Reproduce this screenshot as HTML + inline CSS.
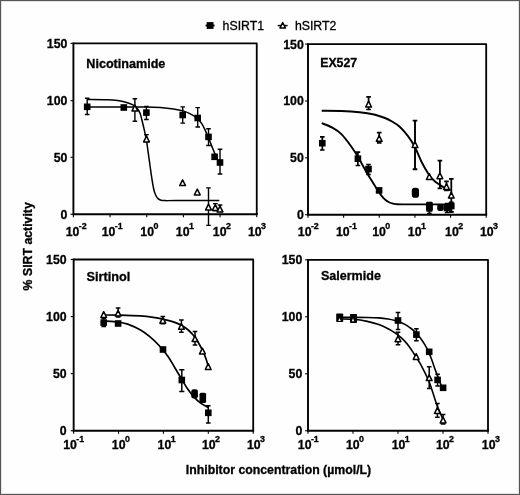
<!DOCTYPE html>
<html><head><meta charset="utf-8"><title>SIRT inhibitor dose response</title>
<style>html,body{margin:0;padding:0;background:#fefefe;}body{width:520px;height:495px;overflow:hidden;}svg{display:block;font-family:'Liberation Sans', sans-serif;}text{fill:#000;stroke:#000;stroke-width:0.3px;}</style>
</head><body>
<svg width="520" height="495" viewBox="0 0 520 495">
<rect x="0" y="0" width="520" height="495" fill="#fefefe"/>
<rect x="1.5" y="1.5" width="517" height="492" fill="none" stroke="#e2e2e2" stroke-width="1"/>
<rect x="0.5" y="0.5" width="519" height="494" fill="none" stroke="#555" stroke-width="1"/>
<path d="M205.6 25.5 H214.6" stroke="#000" stroke-width="1.8"/>
<rect x="206.70" y="22.10" width="6.80" height="6.80" fill="#000"/>
<text x="222.6" y="29.8" font-size="12.3">hSIRT1</text>
<path d="M277.7 25.6 H287.6" stroke="#000" stroke-width="1.5"/>
<path d="M282.70 22.50 L285.45 28.10 L279.95 28.10 Z" fill="#fff" stroke="#000" stroke-width="1.50" stroke-linejoin="round"/>
<text x="294.9" y="29.8" font-size="12.3">hSIRT2</text>
<text transform="translate(31.6 246.3) rotate(-90)" text-anchor="middle" font-weight="bold" font-size="12.3">% SIRT activity</text>
<text x="278.5" y="473.6" text-anchor="middle" font-weight="bold" font-size="12.3">Inhibitor concentration (µmol/L)</text>
<path d="M73.40 43.35 H256.75 V214.30" fill="none" stroke="#000" stroke-width="1.8" stroke-linejoin="round"/>
<path d="M73.40 43.35 V214.30 H256.75" fill="none" stroke="#000" stroke-width="1.9" stroke-linejoin="miter" stroke-linecap="square"/>
<path d="M73.40 214.30 V217.30" stroke="#000" stroke-width="1.1"/>
<path d="M110.07 214.30 V217.30" stroke="#000" stroke-width="1.1"/>
<path d="M146.74 214.30 V217.30" stroke="#000" stroke-width="1.1"/>
<path d="M183.41 214.30 V217.30" stroke="#000" stroke-width="1.1"/>
<path d="M220.08 214.30 V217.30" stroke="#000" stroke-width="1.1"/>
<path d="M256.75 214.30 V217.30" stroke="#000" stroke-width="1.1"/>
<path d="M73.40 214.30 H70.50" stroke="#000" stroke-width="1.1"/>
<path d="M73.40 157.30 H70.50" stroke="#000" stroke-width="1.1"/>
<path d="M73.40 100.70 H70.50" stroke="#000" stroke-width="1.1"/>
<path d="M73.40 43.35 H70.50" stroke="#000" stroke-width="1.1"/>
<text x="65.70" y="235.80" font-weight="bold" font-size="12.3">10<tspan dx="-0.6" dy="-6.9" font-size="8.9">-2</tspan></text>
<text x="101.70" y="235.80" font-weight="bold" font-size="12.3">10<tspan dx="-0.6" dy="-6.9" font-size="8.9">-1</tspan></text>
<text x="140.30" y="235.80" font-weight="bold" font-size="12.3">10<tspan dx="-0.6" dy="-6.9" font-size="8.9">0</tspan></text>
<text x="175.85" y="235.80" font-weight="bold" font-size="12.3">10<tspan dx="-0.6" dy="-6.9" font-size="8.9">1</tspan></text>
<text x="212.85" y="235.80" font-weight="bold" font-size="12.3">10<tspan dx="-0.6" dy="-6.9" font-size="8.9">2</tspan></text>
<text x="248.00" y="235.80" font-weight="bold" font-size="12.3">10<tspan dx="-0.6" dy="-6.9" font-size="8.9">3</tspan></text>
<text x="67.40" y="218.70" font-weight="bold" font-size="12.3" text-anchor="end">0</text>
<text x="67.40" y="161.70" font-weight="bold" font-size="12.3" text-anchor="end">50</text>
<text x="67.40" y="105.10" font-weight="bold" font-size="12.3" text-anchor="end">100</text>
<text x="67.40" y="47.75" font-weight="bold" font-size="12.3" text-anchor="end">150</text>
<text x="86.3" y="67.5" font-weight="bold" font-size="12.6">Nicotinamide</text>
<path d="M87.30 106.90 C93.42 106.92 114.10 107.00 124.00 107.00 C133.90 107.00 140.67 106.82 146.70 106.90 C152.73 106.98 155.72 107.15 160.20 107.50 C164.68 107.85 169.78 108.43 173.60 109.00 C177.42 109.57 180.40 110.13 183.10 110.90 C185.80 111.67 187.57 112.48 189.80 113.60 C192.03 114.72 194.48 115.90 196.50 117.60 C198.52 119.30 200.32 121.40 201.90 123.80 C203.48 126.20 204.77 129.33 206.00 132.00 C207.23 134.67 208.22 137.13 209.30 139.80 C210.38 142.47 211.43 145.33 212.50 148.00 C213.57 150.67 214.70 153.55 215.70 155.80 C216.70 158.05 217.78 160.13 218.50 161.50 C219.22 162.87 219.75 163.58 220.00 164.00" fill="none" stroke="#000" stroke-width="1.50" stroke-linecap="butt" stroke-linejoin="round"/>
<path d="M87.30 99.40 C90.57 99.45 101.83 99.50 106.90 99.70 C111.97 99.90 114.55 100.18 117.70 100.60 C120.85 101.02 123.33 101.53 125.80 102.20 C128.27 102.87 130.72 103.70 132.50 104.60 C134.28 105.50 135.27 106.22 136.50 107.60 C137.73 108.98 139.02 110.92 139.90 112.90 C140.78 114.88 141.03 116.50 141.80 119.50 C142.57 122.50 143.68 127.18 144.50 130.90 C145.32 134.62 146.08 138.17 146.70 141.80 C147.32 145.43 147.65 148.75 148.20 152.70 C148.75 156.65 149.40 161.25 150.00 165.50 C150.60 169.75 151.20 174.37 151.80 178.20 C152.40 182.03 152.98 185.73 153.60 188.50 C154.22 191.27 154.77 193.12 155.50 194.80 C156.23 196.48 157.08 197.70 158.00 198.60 C158.92 199.50 159.83 199.87 161.00 200.20 C162.17 200.53 162.67 200.53 165.00 200.60 C167.33 200.67 165.95 200.60 175.00 200.60 C184.05 200.60 211.92 200.60 219.30 200.60" fill="none" stroke="#000" stroke-width="1.50" stroke-linecap="butt" stroke-linejoin="round"/>
<path d="M87.20 98.30 V114.50 M84.90 98.30 H89.50 M84.90 114.50 H89.50" fill="none" stroke="#000" stroke-width="1.40"/>
<path d="M134.90 98.70 V121.20 M132.60 98.70 H137.20 M132.60 121.20 H137.20" fill="none" stroke="#000" stroke-width="1.40"/>
<path d="M146.40 106.50 V119.50 M144.10 106.50 H148.70 M144.10 119.50 H148.70" fill="none" stroke="#000" stroke-width="1.40"/>
<path d="M182.70 106.90 V123.10 M180.40 106.90 H185.00 M180.40 123.10 H185.00" fill="none" stroke="#000" stroke-width="1.40"/>
<path d="M197.70 107.60 V127.00 M195.40 107.60 H200.00 M195.40 127.00 H200.00" fill="none" stroke="#000" stroke-width="1.40"/>
<path d="M208.50 128.80 V145.50 M206.20 128.80 H210.80 M206.20 145.50 H210.80" fill="none" stroke="#000" stroke-width="1.40"/>
<path d="M220.00 149.20 V174.00 M217.70 149.20 H222.30 M217.70 174.00 H222.30" fill="none" stroke="#000" stroke-width="1.40"/>
<path d="M208.50 187.90 V225.40 M206.20 187.90 H210.80 M206.20 225.40 H210.80" fill="none" stroke="#000" stroke-width="1.40"/>
<path d="M215.30 203.60 V210.50 M213.00 203.60 H217.60 M213.00 210.50 H217.60" fill="none" stroke="#000" stroke-width="1.40"/>
<path d="M220.00 205.00 V211.50 M217.70 205.00 H222.30 M217.70 211.50 H222.30" fill="none" stroke="#000" stroke-width="1.40"/>
<path d="M146.50 134.60 V141.50 M144.20 134.60 H148.80 M144.20 141.50 H148.80" fill="none" stroke="#000" stroke-width="1.40"/>
<rect x="83.90" y="103.50" width="6.60" height="6.60" fill="#000"/>
<rect x="120.50" y="104.20" width="6.60" height="6.60" fill="#000"/>
<rect x="143.10" y="109.30" width="6.60" height="6.60" fill="#000"/>
<rect x="179.40" y="111.70" width="6.60" height="6.60" fill="#000"/>
<rect x="194.40" y="114.70" width="6.60" height="6.60" fill="#000"/>
<rect x="205.20" y="133.60" width="6.60" height="6.60" fill="#000"/>
<rect x="211.30" y="153.50" width="6.60" height="6.60" fill="#000"/>
<rect x="216.70" y="159.20" width="6.60" height="6.60" fill="#000"/>
<path d="M134.90 105.10 L137.80 110.90 L132.00 110.90 Z" fill="#fff" stroke="#000" stroke-width="1.50" stroke-linejoin="round"/>
<path d="M146.50 136.10 L149.40 141.90 L143.60 141.90 Z" fill="#fff" stroke="#000" stroke-width="1.50" stroke-linejoin="round"/>
<path d="M182.60 179.80 L185.50 185.60 L179.70 185.60 Z" fill="#fff" stroke="#000" stroke-width="1.50" stroke-linejoin="round"/>
<path d="M197.30 189.10 L200.20 194.90 L194.40 194.90 Z" fill="#fff" stroke="#000" stroke-width="1.50" stroke-linejoin="round"/>
<path d="M208.50 204.10 L211.40 209.90 L205.60 209.90 Z" fill="#fff" stroke="#000" stroke-width="1.50" stroke-linejoin="round"/>
<path d="M215.30 204.60 L218.20 210.40 L212.40 210.40 Z" fill="#fff" stroke="#000" stroke-width="1.50" stroke-linejoin="round"/>
<path d="M220.00 206.10 L222.90 211.90 L217.10 211.90 Z" fill="#fff" stroke="#000" stroke-width="1.50" stroke-linejoin="round"/>
<path d="M308.00 44.10 H486.20 V214.70" fill="none" stroke="#000" stroke-width="1.8" stroke-linejoin="round"/>
<path d="M308.00 44.10 V214.70 H486.20" fill="none" stroke="#000" stroke-width="1.9" stroke-linejoin="miter" stroke-linecap="square"/>
<path d="M308.00 214.70 V217.70" stroke="#000" stroke-width="1.1"/>
<path d="M343.64 214.70 V217.70" stroke="#000" stroke-width="1.1"/>
<path d="M379.28 214.70 V217.70" stroke="#000" stroke-width="1.1"/>
<path d="M414.92 214.70 V217.70" stroke="#000" stroke-width="1.1"/>
<path d="M450.56 214.70 V217.70" stroke="#000" stroke-width="1.1"/>
<path d="M486.20 214.70 V217.70" stroke="#000" stroke-width="1.1"/>
<path d="M308.00 214.70 H305.10" stroke="#000" stroke-width="1.1"/>
<path d="M308.00 157.83 H305.10" stroke="#000" stroke-width="1.1"/>
<path d="M308.00 100.97 H305.10" stroke="#000" stroke-width="1.1"/>
<path d="M308.00 44.10 H305.10" stroke="#000" stroke-width="1.1"/>
<text x="297.80" y="235.80" font-weight="bold" font-size="12.3">10<tspan dx="-0.6" dy="-6.9" font-size="8.9">-2</tspan></text>
<text x="335.90" y="235.80" font-weight="bold" font-size="12.3">10<tspan dx="-0.6" dy="-6.9" font-size="8.9">-1</tspan></text>
<text x="372.25" y="235.80" font-weight="bold" font-size="12.3">10<tspan dx="-0.6" dy="-6.9" font-size="8.9">0</tspan></text>
<text x="407.85" y="235.80" font-weight="bold" font-size="12.3">10<tspan dx="-0.6" dy="-6.9" font-size="8.9">1</tspan></text>
<text x="445.05" y="235.80" font-weight="bold" font-size="12.3">10<tspan dx="-0.6" dy="-6.9" font-size="8.9">2</tspan></text>
<text x="479.90" y="235.80" font-weight="bold" font-size="12.3">10<tspan dx="-0.6" dy="-6.9" font-size="8.9">3</tspan></text>
<text x="303.80" y="219.10" font-weight="bold" font-size="12.3" text-anchor="end">0</text>
<text x="303.80" y="162.23" font-weight="bold" font-size="12.3" text-anchor="end">50</text>
<text x="303.80" y="105.37" font-weight="bold" font-size="12.3" text-anchor="end">100</text>
<text x="303.80" y="48.50" font-weight="bold" font-size="12.3" text-anchor="end">150</text>
<text x="320.2" y="67.2" font-weight="bold" font-size="12.3">EX527</text>
<path d="M321.70 110.80 C324.98 110.83 335.10 110.77 341.40 111.00 C347.70 111.23 354.05 111.62 359.50 112.20 C364.95 112.78 369.85 113.53 374.10 114.50 C378.35 115.47 382.02 116.83 385.00 118.00 C387.98 119.17 389.55 120.05 392.00 121.50 C394.45 122.95 397.00 124.22 399.70 126.70 C402.40 129.18 405.65 132.97 408.20 136.40 C410.75 139.83 412.77 143.03 415.00 147.30 C417.23 151.57 419.30 157.47 421.60 162.00 C423.90 166.53 426.73 171.42 428.80 174.50 C430.87 177.58 432.38 178.92 434.00 180.50 C435.62 182.08 437.00 182.95 438.50 184.00 C440.00 185.05 441.58 186.00 443.00 186.80 C444.42 187.60 445.72 188.22 447.00 188.80 C448.28 189.38 450.08 190.05 450.70 190.30" fill="none" stroke="#000" stroke-width="1.90" stroke-linecap="butt" stroke-linejoin="round"/>
<path d="M321.70 123.20 C323.47 123.95 329.02 125.88 332.30 127.70 C335.58 129.52 338.30 131.05 341.40 134.10 C344.50 137.15 348.10 142.13 350.90 146.00 C353.70 149.87 355.47 152.70 358.20 157.30 C360.93 161.90 364.27 168.45 367.30 173.60 C370.33 178.75 373.98 184.43 376.40 188.20 C378.82 191.97 380.37 194.32 381.80 196.20 C383.23 198.08 383.88 198.53 385.00 199.50 C386.12 200.47 387.33 201.35 388.50 202.00 C389.67 202.65 390.75 203.05 392.00 203.40 C393.25 203.75 393.83 203.93 396.00 204.10 C398.17 204.27 395.88 204.35 405.00 204.40 C414.12 204.45 443.08 204.40 450.70 204.40" fill="none" stroke="#000" stroke-width="1.90" stroke-linecap="butt" stroke-linejoin="round"/>
<path d="M322.30 136.80 V150.00 M320.00 136.80 H324.60 M320.00 150.00 H324.60" fill="none" stroke="#000" stroke-width="1.70"/>
<path d="M357.90 152.20 V165.50 M355.60 152.20 H360.20 M355.60 165.50 H360.20" fill="none" stroke="#000" stroke-width="1.70"/>
<path d="M368.50 164.50 V174.50 M366.20 164.50 H370.80 M366.20 174.50 H370.80" fill="none" stroke="#000" stroke-width="1.70"/>
<path d="M429.40 203.00 V213.60 M427.10 203.00 H431.70 M427.10 213.60 H431.70" fill="none" stroke="#000" stroke-width="1.70"/>
<path d="M447.10 203.50 V212.50 M444.80 203.50 H449.40 M444.80 212.50 H449.40" fill="none" stroke="#000" stroke-width="1.70"/>
<path d="M451.30 202.30 V212.00 M449.00 202.30 H453.60 M449.00 212.00 H453.60" fill="none" stroke="#000" stroke-width="1.70"/>
<path d="M368.60 96.80 V109.50 M366.30 96.80 H370.90 M366.30 109.50 H370.90" fill="none" stroke="#000" stroke-width="1.70"/>
<path d="M379.20 132.60 V142.80 M376.90 132.60 H381.50 M376.90 142.80 H381.50" fill="none" stroke="#000" stroke-width="1.70"/>
<path d="M415.00 120.60 V169.30 M412.70 120.60 H417.30 M412.70 169.30 H417.30" fill="none" stroke="#000" stroke-width="1.90"/>
<path d="M439.90 160.60 V188.30 M437.60 160.60 H442.20 M437.60 188.30 H442.20" fill="none" stroke="#000" stroke-width="1.80"/>
<path d="M446.50 181.40 V190.50 M444.20 181.40 H448.80 M444.20 190.50 H448.80" fill="none" stroke="#000" stroke-width="1.70"/>
<path d="M451.30 178.80 V211.80 M449.00 178.80 H453.60 M449.00 211.80 H453.60" fill="none" stroke="#000" stroke-width="1.80"/>
<rect x="319.00" y="139.90" width="6.60" height="6.60" fill="#000"/>
<rect x="354.60" y="155.40" width="6.60" height="6.60" fill="#000"/>
<rect x="365.20" y="165.80" width="6.60" height="6.60" fill="#000"/>
<rect x="375.80" y="187.10" width="6.60" height="6.60" fill="#000"/>
<rect x="426.10" y="203.40" width="6.60" height="6.60" fill="#000"/>
<rect x="443.80" y="204.70" width="6.60" height="6.60" fill="#000"/>
<rect x="448.00" y="202.70" width="6.60" height="6.60" fill="#000"/>
<rect x="411.80" y="187.70" width="7.20" height="10.00" rx="2.80" ry="2.80" fill="#000"/>
<rect x="426.15" y="201.70" width="6.50" height="10.00" rx="1.00" ry="1.00" fill="#000"/>
<rect x="437.20" y="204.10" width="6.60" height="6.80" rx="1.80" ry="1.80" fill="#000"/>
<path d="M368.60 101.20 L371.50 107.00 L365.70 107.00 Z" fill="#fff" stroke="#000" stroke-width="1.50" stroke-linejoin="round"/>
<path d="M379.20 135.50 L382.10 141.30 L376.30 141.30 Z" fill="#fff" stroke="#000" stroke-width="1.50" stroke-linejoin="round"/>
<path d="M415.00 141.70 L417.90 147.50 L412.10 147.50 Z" fill="#fff" stroke="#000" stroke-width="1.50" stroke-linejoin="round"/>
<path d="M429.30 173.70 L432.20 179.50 L426.40 179.50 Z" fill="#fff" stroke="#000" stroke-width="1.50" stroke-linejoin="round"/>
<path d="M439.90 172.90 L442.80 178.70 L437.00 178.70 Z" fill="#fff" stroke="#000" stroke-width="1.50" stroke-linejoin="round"/>
<path d="M446.50 183.70 L449.40 189.50 L443.60 189.50 Z" fill="#fff" stroke="#000" stroke-width="1.50" stroke-linejoin="round"/>
<path d="M451.30 192.30 L454.20 198.10 L448.40 198.10 Z" fill="#fff" stroke="#000" stroke-width="1.50" stroke-linejoin="round"/>
<path d="M73.65 259.50 H253.20 V430.75" fill="none" stroke="#000" stroke-width="1.8" stroke-linejoin="round"/>
<path d="M73.65 259.50 V430.75 H253.20" fill="none" stroke="#000" stroke-width="1.9" stroke-linejoin="miter" stroke-linecap="square"/>
<path d="M73.65 430.75 V433.75" stroke="#000" stroke-width="1.1"/>
<path d="M118.54 430.75 V433.75" stroke="#000" stroke-width="1.1"/>
<path d="M163.43 430.75 V433.75" stroke="#000" stroke-width="1.1"/>
<path d="M208.31 430.75 V433.75" stroke="#000" stroke-width="1.1"/>
<path d="M253.20 430.75 V433.75" stroke="#000" stroke-width="1.1"/>
<path d="M73.65 430.75 H70.75" stroke="#000" stroke-width="1.1"/>
<path d="M73.65 373.67 H70.75" stroke="#000" stroke-width="1.1"/>
<path d="M73.65 316.58 H70.75" stroke="#000" stroke-width="1.1"/>
<path d="M73.65 259.50 H70.75" stroke="#000" stroke-width="1.1"/>
<text x="63.15" y="449.35" font-weight="bold" font-size="12.3">10<tspan dx="-0.6" dy="-6.9" font-size="8.9">-1</tspan></text>
<text x="111.85" y="449.35" font-weight="bold" font-size="12.3">10<tspan dx="-0.6" dy="-6.9" font-size="8.9">0</tspan></text>
<text x="157.60" y="449.35" font-weight="bold" font-size="12.3">10<tspan dx="-0.6" dy="-6.9" font-size="8.9">1</tspan></text>
<text x="202.00" y="449.35" font-weight="bold" font-size="12.3">10<tspan dx="-0.6" dy="-6.9" font-size="8.9">2</tspan></text>
<text x="247.00" y="449.35" font-weight="bold" font-size="12.3">10<tspan dx="-0.6" dy="-6.9" font-size="8.9">3</tspan></text>
<text x="66.60" y="435.15" font-weight="bold" font-size="12.3" text-anchor="end">0</text>
<text x="66.60" y="378.07" font-weight="bold" font-size="12.3" text-anchor="end">50</text>
<text x="66.60" y="320.98" font-weight="bold" font-size="12.3" text-anchor="end">100</text>
<text x="66.60" y="263.90" font-weight="bold" font-size="12.3" text-anchor="end">150</text>
<text x="86.5" y="281.1" font-weight="bold" font-size="12.7">Sirtinol</text>
<path d="M103.70 315.00 C106.10 315.02 111.97 314.95 118.10 315.10 C124.23 315.25 134.35 315.48 140.50 315.90 C146.65 316.32 151.28 317.07 155.00 317.60 C158.72 318.13 160.30 318.55 162.80 319.10 C165.30 319.65 167.58 320.18 170.00 320.90 C172.42 321.62 175.13 322.50 177.30 323.40 C179.47 324.30 181.18 325.20 183.00 326.30 C184.82 327.40 186.62 328.67 188.20 330.00 C189.78 331.33 191.13 332.72 192.50 334.30 C193.87 335.88 195.15 337.63 196.40 339.50 C197.65 341.37 198.87 343.45 200.00 345.50 C201.13 347.55 202.23 349.68 203.20 351.80 C204.17 353.92 204.98 355.92 205.80 358.20 C206.62 360.48 207.72 364.28 208.10 365.50" fill="none" stroke="#000" stroke-width="1.70" stroke-linecap="butt" stroke-linejoin="round"/>
<path d="M103.70 321.00 C106.10 321.17 114.10 321.48 118.10 322.00 C122.10 322.52 123.97 322.77 127.70 324.10 C131.43 325.43 136.87 327.95 140.50 330.00 C144.13 332.05 146.48 333.90 149.50 336.40 C152.52 338.90 155.57 341.73 158.60 345.00 C161.63 348.27 165.02 352.25 167.70 356.00 C170.38 359.75 172.37 363.62 174.70 367.50 C177.03 371.38 179.53 375.72 181.70 379.30 C183.87 382.88 185.63 386.03 187.70 389.00 C189.77 391.97 191.95 394.75 194.10 397.10 C196.25 399.45 198.22 401.35 200.60 403.10 C202.98 404.85 207.10 406.85 208.40 407.60" fill="none" stroke="#000" stroke-width="1.70" stroke-linecap="butt" stroke-linejoin="round"/>
<path d="M118.10 308.10 V317.00 M115.80 308.10 H120.40 M115.80 317.00 H120.40" fill="none" stroke="#000" stroke-width="1.50"/>
<path d="M162.80 316.50 V323.70 M160.50 316.50 H165.10 M160.50 323.70 H165.10" fill="none" stroke="#000" stroke-width="1.50"/>
<path d="M181.40 320.00 V332.30 M179.10 320.00 H183.70 M179.10 332.30 H183.70" fill="none" stroke="#000" stroke-width="1.50"/>
<path d="M195.00 331.40 V345.00 M192.70 331.40 H197.30 M192.70 345.00 H197.30" fill="none" stroke="#000" stroke-width="1.50"/>
<path d="M103.70 318.60 V326.50 M101.40 318.60 H106.00 M101.40 326.50 H106.00" fill="none" stroke="#000" stroke-width="1.50"/>
<path d="M181.80 369.80 V391.40 M179.20 369.80 H184.40 M179.20 391.40 H184.40" fill="none" stroke="#000" stroke-width="1.50"/>
<path d="M208.30 405.80 V423.00 M206.00 405.80 H210.60 M206.00 423.00 H210.60" fill="none" stroke="#000" stroke-width="1.50"/>
<rect x="100.40" y="319.30" width="6.60" height="6.60" fill="#000"/>
<rect x="114.80" y="320.20" width="6.60" height="6.60" fill="#000"/>
<rect x="159.70" y="346.20" width="6.60" height="6.60" fill="#000"/>
<rect x="178.50" y="376.70" width="6.60" height="6.60" fill="#000"/>
<rect x="205.00" y="409.50" width="6.60" height="6.60" fill="#000"/>
<rect x="191.30" y="389.20" width="6.60" height="9.20" rx="2.20" ry="2.20" fill="#000"/>
<rect x="199.50" y="392.70" width="6.60" height="10.40" rx="1.60" ry="1.60" fill="#000"/>
<path d="M103.70 311.70 L106.60 317.50 L100.80 317.50 Z" fill="#fff" stroke="#000" stroke-width="1.50" stroke-linejoin="round"/>
<path d="M118.10 310.30 L121.00 316.10 L115.20 316.10 Z" fill="#fff" stroke="#000" stroke-width="1.50" stroke-linejoin="round"/>
<path d="M162.80 317.40 L165.70 323.20 L159.90 323.20 Z" fill="#fff" stroke="#000" stroke-width="1.50" stroke-linejoin="round"/>
<path d="M181.40 323.50 L184.30 329.30 L178.50 329.30 Z" fill="#fff" stroke="#000" stroke-width="1.50" stroke-linejoin="round"/>
<path d="M195.00 335.80 L197.90 341.60 L192.10 341.60 Z" fill="#fff" stroke="#000" stroke-width="1.50" stroke-linejoin="round"/>
<path d="M202.40 348.10 L205.30 353.90 L199.50 353.90 Z" fill="#fff" stroke="#000" stroke-width="1.50" stroke-linejoin="round"/>
<path d="M208.20 363.70 L211.10 369.50 L205.30 369.50 Z" fill="#fff" stroke="#000" stroke-width="1.50" stroke-linejoin="round"/>
<path d="M308.00 259.85 H488.00 V430.75" fill="none" stroke="#000" stroke-width="1.8" stroke-linejoin="round"/>
<path d="M308.00 259.85 V430.75 H488.00" fill="none" stroke="#000" stroke-width="1.9" stroke-linejoin="miter" stroke-linecap="square"/>
<path d="M308.00 430.75 V433.75" stroke="#000" stroke-width="1.1"/>
<path d="M353.00 430.75 V433.75" stroke="#000" stroke-width="1.1"/>
<path d="M398.00 430.75 V433.75" stroke="#000" stroke-width="1.1"/>
<path d="M443.00 430.75 V433.75" stroke="#000" stroke-width="1.1"/>
<path d="M488.00 430.75 V433.75" stroke="#000" stroke-width="1.1"/>
<path d="M308.00 430.75 H305.10" stroke="#000" stroke-width="1.1"/>
<path d="M308.00 373.78 H305.10" stroke="#000" stroke-width="1.1"/>
<path d="M308.00 316.82 H305.10" stroke="#000" stroke-width="1.1"/>
<path d="M308.00 259.85 H305.10" stroke="#000" stroke-width="1.1"/>
<text x="297.80" y="449.30" font-weight="bold" font-size="12.3">10<tspan dx="-0.6" dy="-6.9" font-size="8.9">-1</tspan></text>
<text x="345.90" y="449.30" font-weight="bold" font-size="12.3">10<tspan dx="-0.6" dy="-6.9" font-size="8.9">0</tspan></text>
<text x="391.70" y="449.30" font-weight="bold" font-size="12.3">10<tspan dx="-0.6" dy="-6.9" font-size="8.9">1</tspan></text>
<text x="435.90" y="449.30" font-weight="bold" font-size="12.3">10<tspan dx="-0.6" dy="-6.9" font-size="8.9">2</tspan></text>
<text x="481.85" y="449.30" font-weight="bold" font-size="12.3">10<tspan dx="-0.6" dy="-6.9" font-size="8.9">3</tspan></text>
<text x="302.30" y="435.15" font-weight="bold" font-size="12.3" text-anchor="end">0</text>
<text x="302.30" y="378.18" font-weight="bold" font-size="12.3" text-anchor="end">50</text>
<text x="302.30" y="321.22" font-weight="bold" font-size="12.3" text-anchor="end">100</text>
<text x="302.30" y="264.25" font-weight="bold" font-size="12.3" text-anchor="end">150</text>
<text x="320.9" y="280.3" font-weight="bold" font-size="12.55">Salermide</text>
<path d="M339.50 317.40 C341.77 317.40 348.47 317.38 353.10 317.40 C357.73 317.42 363.02 317.42 367.30 317.50 C371.58 317.58 375.33 317.65 378.80 317.90 C382.27 318.15 385.40 318.57 388.10 319.00 C390.80 319.43 392.88 319.93 395.00 320.50 C397.12 321.07 399.07 321.72 400.80 322.40 C402.53 323.08 403.95 323.78 405.40 324.60 C406.85 325.42 407.90 326.10 409.50 327.30 C411.10 328.50 413.17 329.98 415.00 331.80 C416.83 333.62 418.92 336.13 420.50 338.20 C422.08 340.27 423.15 341.93 424.50 344.20 C425.85 346.47 427.35 349.08 428.60 351.80 C429.85 354.52 430.85 357.38 432.00 360.50 C433.15 363.62 434.42 367.50 435.50 370.50 C436.58 373.50 437.60 376.17 438.50 378.50 C439.40 380.83 440.13 382.82 440.90 384.50 C441.67 386.18 442.73 387.92 443.10 388.60" fill="none" stroke="#000" stroke-width="1.60" stroke-linecap="butt" stroke-linejoin="round"/>
<path d="M339.50 318.90 C341.77 318.97 348.47 318.88 353.10 319.30 C357.73 319.72 363.02 320.52 367.30 321.40 C371.58 322.28 375.33 323.38 378.80 324.60 C382.27 325.82 385.40 327.33 388.10 328.70 C390.80 330.07 392.88 331.37 395.00 332.80 C397.12 334.23 399.07 335.78 400.80 337.30 C402.53 338.82 403.87 340.17 405.40 341.90 C406.93 343.63 408.63 345.82 410.00 347.70 C411.37 349.58 411.85 350.47 413.60 353.20 C415.35 355.93 418.00 359.55 420.50 364.10 C423.00 368.65 426.68 376.18 428.60 380.50 C430.52 384.82 430.85 386.60 432.00 390.00 C433.15 393.40 434.45 397.82 435.50 400.90 C436.55 403.98 437.40 406.23 438.30 408.50 C439.20 410.77 440.10 412.58 440.90 414.50 C441.70 416.42 442.73 419.08 443.10 420.00" fill="none" stroke="#000" stroke-width="1.60" stroke-linecap="butt" stroke-linejoin="round"/>
<path d="M398.00 312.50 V329.50 M395.70 312.50 H400.30 M395.70 329.50 H400.30" fill="none" stroke="#000" stroke-width="1.50"/>
<path d="M416.40 328.80 V340.80 M414.10 328.80 H418.70 M414.10 340.80 H418.70" fill="none" stroke="#000" stroke-width="1.50"/>
<path d="M437.60 374.20 V385.90 M435.30 374.20 H439.90 M435.30 385.90 H439.90" fill="none" stroke="#000" stroke-width="1.50"/>
<path d="M398.00 332.20 V344.80 M395.70 332.20 H400.30 M395.70 344.80 H400.30" fill="none" stroke="#000" stroke-width="1.50"/>
<path d="M429.20 366.80 V388.60 M426.90 366.80 H431.50 M426.90 388.60 H431.50" fill="none" stroke="#000" stroke-width="1.50"/>
<path d="M437.40 403.60 V417.30 M435.10 403.60 H439.70 M435.10 417.30 H439.70" fill="none" stroke="#000" stroke-width="1.50"/>
<path d="M443.10 414.50 V424.00 M440.80 414.50 H445.40 M440.80 424.00 H445.40" fill="none" stroke="#000" stroke-width="1.50"/>
<rect x="394.70" y="317.20" width="6.60" height="6.60" fill="#000"/>
<rect x="413.10" y="331.30" width="6.60" height="6.60" fill="#000"/>
<rect x="425.90" y="348.50" width="6.60" height="6.60" fill="#000"/>
<rect x="434.30" y="376.60" width="6.60" height="6.60" fill="#000"/>
<rect x="439.80" y="384.50" width="6.60" height="6.60" fill="#000"/>
<path d="M398.00 335.90 L400.90 341.70 L395.10 341.70 Z" fill="#fff" stroke="#000" stroke-width="1.50" stroke-linejoin="round"/>
<path d="M416.20 353.60 L419.10 359.40 L413.30 359.40 Z" fill="#fff" stroke="#000" stroke-width="1.50" stroke-linejoin="round"/>
<path d="M429.20 374.80 L432.10 380.60 L426.30 380.60 Z" fill="#fff" stroke="#000" stroke-width="1.50" stroke-linejoin="round"/>
<path d="M437.40 407.60 L440.30 413.40 L434.50 413.40 Z" fill="#fff" stroke="#000" stroke-width="1.50" stroke-linejoin="round"/>
<path d="M443.10 417.10 L446.00 422.90 L440.20 422.90 Z" fill="#fff" stroke="#000" stroke-width="1.50" stroke-linejoin="round"/>
<rect x="336.20" y="313.50" width="7.00" height="8.60" rx="0.80" ry="0.80" fill="#000"/>
<path d="M339.5 317.9 L340.7 320.9 L338.3 320.9 Z" fill="#fff"/>
<rect x="350.00" y="313.90" width="7.00" height="9.20" rx="0.80" ry="0.80" fill="#000"/>
<path d="M353.0 318.2 L354.2 321.2 L351.8 321.2 Z" fill="#fff"/>
</svg></body></html>
